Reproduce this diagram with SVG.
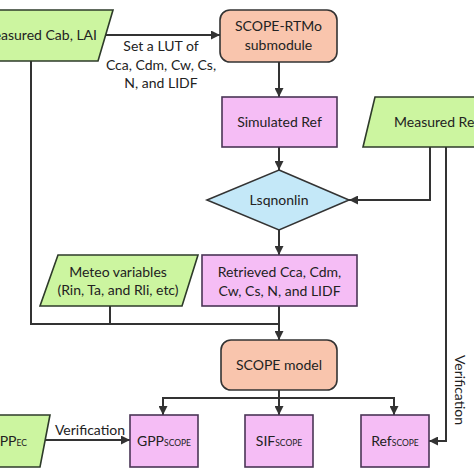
<svg xmlns="http://www.w3.org/2000/svg" width="474" height="474" viewBox="0 0 474 474">
<defs>
<style>
.t{font-family:Lato,"Liberation Sans",sans-serif;font-size:14px;fill:#222;}
.m{text-anchor:middle;}
.sub{font-size:8.5px;}
.ln{fill:none;stroke:#333;stroke-width:2;}
.g{fill:#ccf5a0;stroke:#2e3b2a;stroke-width:1.6;}
.p{fill:#f5bdf5;stroke:#4a3556;stroke-width:1.6;}
.s{fill:#f9c5ad;stroke:#333;stroke-width:1.6;}
.b{fill:#c4e8f8;stroke:#333;stroke-width:1.6;}
</style>
<marker id="ah" viewBox="0 0 10 10" refX="10" refY="5" markerWidth="9" markerHeight="9" markerUnits="userSpaceOnUse" orient="auto">
<path d="M0,0 L10,5 L0,10 z" fill="#333"/>
</marker>
</defs>
<rect width="474" height="474" fill="#fff"/>
<g id="connectors">
<line class="ln" x1="106" y1="35" x2="220" y2="35" marker-end="url(#ah)"/>
<line class="ln" x1="279" y1="62" x2="279" y2="97" marker-end="url(#ah)"/>
<line class="ln" x1="279" y1="147" x2="279" y2="170" marker-end="url(#ah)"/>
<polyline class="ln" points="430,147 430,200 349,200" marker-end="url(#ah)"/>
<line class="ln" x1="279" y1="230" x2="279" y2="255" marker-end="url(#ah)"/>
<line class="ln" x1="279" y1="306" x2="279" y2="340" marker-end="url(#ah)"/>
<polyline class="ln" points="31,61 31,324 279,324"/>
<line class="ln" x1="110" y1="306" x2="110" y2="324"/>
<line class="ln" x1="279" y1="390" x2="279" y2="398"/>
<polyline class="ln" points="163,415 163,398 394,398 394,415" marker-end="url(#ah)"/>
<line class="ln" x1="163" y1="398" x2="163" y2="415" marker-end="url(#ah)"/>
<line class="ln" x1="279" y1="398" x2="279" y2="415" marker-end="url(#ah)"/>
<polyline class="ln" points="446,147 446,441 429,441" marker-end="url(#ah)"/>
<line class="ln" x1="45" y1="440" x2="130" y2="440" marker-end="url(#ah)"/>
<text class="t m" x="161" y="51">Set a LUT of</text>
<text class="t m" x="161" y="70">Cca, Cdm, Cw, Cs,</text>
<text class="t m" x="161" y="88">N, and LIDF</text>
<text class="t m" x="90" y="435">Verification</text>
<text class="t m" transform="translate(455,390) rotate(90)" y="0">Verification</text>
</g>
<g id="measured-cab">
<polygon class="g" points="-20,10 113,10 98,61 -35,61"/>
<text class="t" x="97" y="40" text-anchor="end">Measured Cab, LAI</text>
</g>
<g id="scope-rtmo">
<rect class="s" x="220" y="10" width="117" height="52" rx="10"/>
<text class="t m" x="278.5" y="31">SCOPE-RTMo</text>
<text class="t m" x="278.5" y="50">submodule</text>
</g>
<g id="simulated-ref">
<rect class="p" x="222" y="97" width="115" height="50"/>
<text class="t m" x="279.5" y="127">Simulated Ref</text>
</g>
<g id="measured-ref">
<polygon class="g" points="375,97 500,97 490,147 363,147"/>
<text class="t" x="394" y="127">Measured Ref</text>
</g>
<g id="lsqnonlin">
<polygon class="b" points="279,170 349,200 279,230 207,200"/>
<text class="t m" x="279" y="205">Lsqnonlin</text>
</g>
<g id="meteo">
<polygon class="g" points="58,255 198,255 182,306 40,306"/>
<text class="t m" x="118" y="277">Meteo variables</text>
<text class="t m" x="118" y="295">(Rin, Ta, and Rli, etc)</text>
</g>
<g id="retrieved">
<rect class="p" x="202" y="255" width="155" height="51"/>
<text class="t m" x="279.5" y="277">Retrieved Cca, Cdm,</text>
<text class="t m" x="279.5" y="296">Cw, Cs, N, and LIDF</text>
</g>
<g id="scope-model">
<rect class="s" x="221" y="340" width="116" height="50" rx="10"/>
<text class="t m" x="279" y="370">SCOPE model</text>
</g>
<g id="gpp-ec">
<polygon class="g" points="-30,415 50,415 40,467 -40,467"/>
<text class="t" x="27" y="446" text-anchor="end">GPP<tspan class="sub">EC</tspan></text>
</g>
<g id="gpp-scope">
<rect class="p" x="130" y="415" width="68" height="52"/>
<text class="t m" x="164" y="446">GPP<tspan class="sub">SCOPE</tspan></text>
</g>
<g id="sif-scope">
<rect class="p" x="245" y="415" width="68" height="52"/>
<text class="t m" x="279" y="446">SIF<tspan class="sub">SCOPE</tspan></text>
</g>
<g id="ref-scope">
<rect class="p" x="361" y="415" width="68" height="52"/>
<text class="t m" x="395" y="446">Ref<tspan class="sub">SCOPE</tspan></text>
</g>
</svg>
